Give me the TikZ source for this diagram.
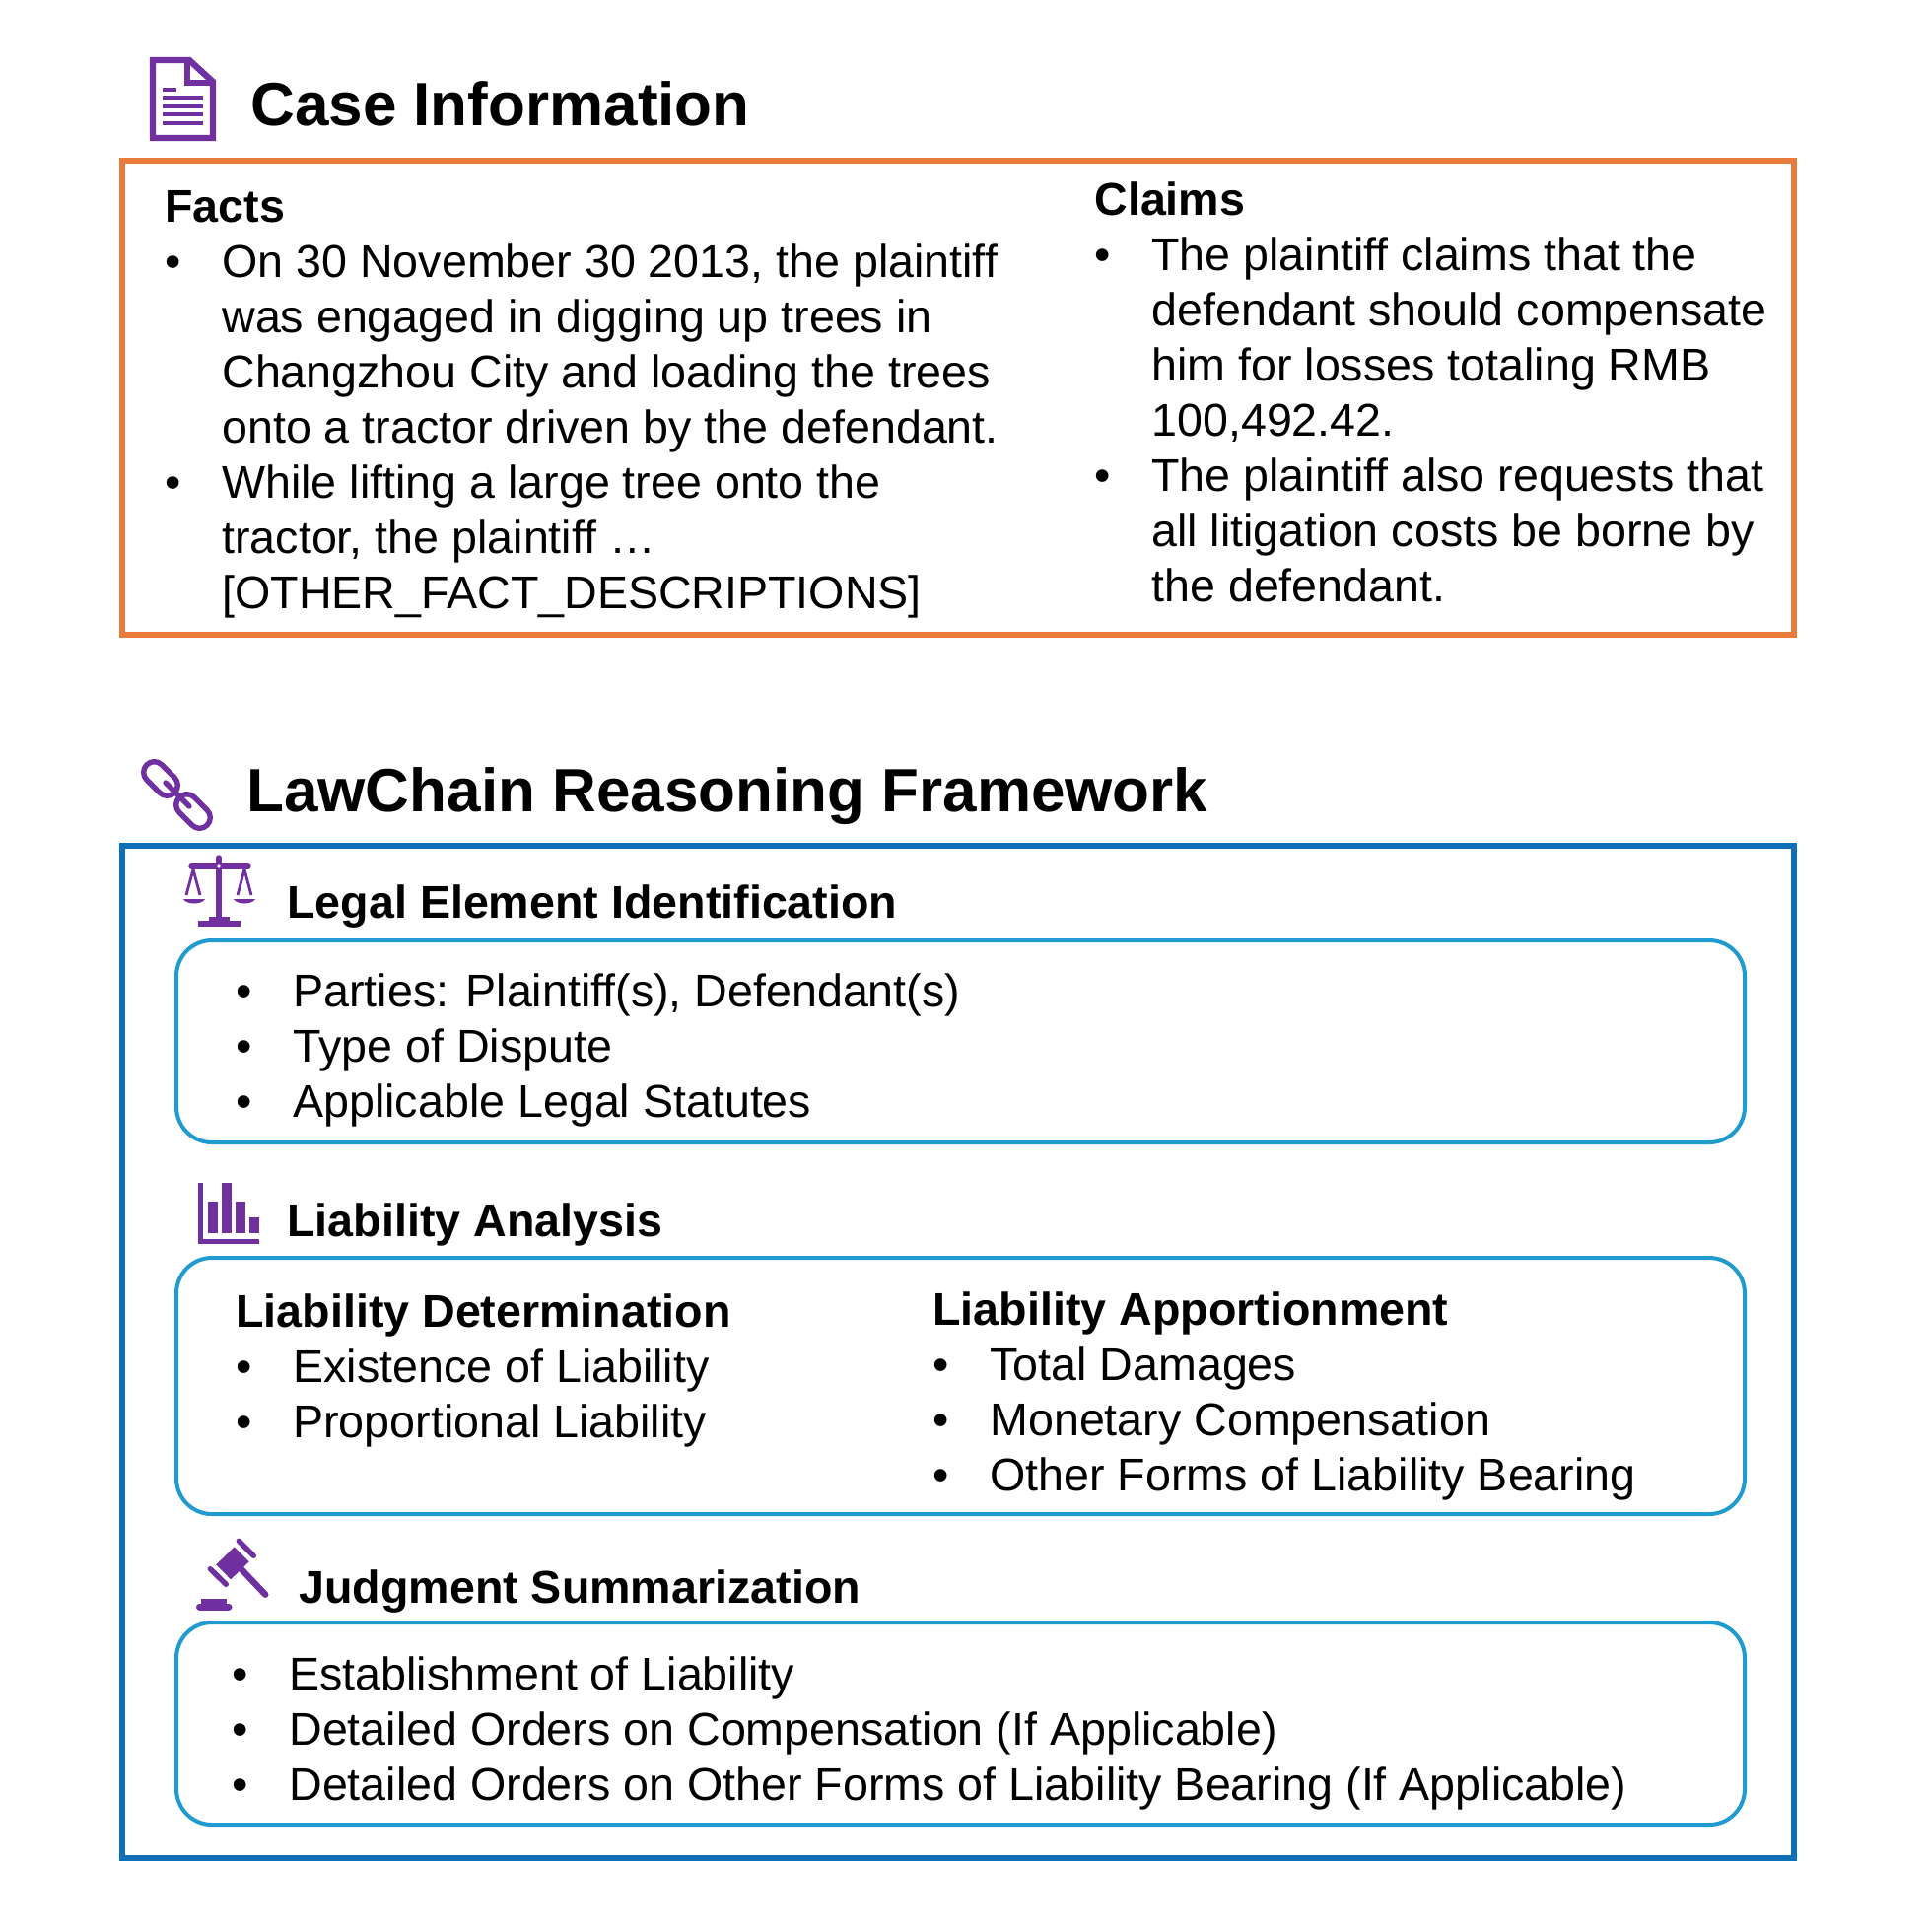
\documentclass[tikz,border=0pt]{standalone}
\usepackage{fontspec}
\setmainfont{Liberation Sans}
\usetikzlibrary{positioning}
\definecolor{caseorange}{HTML}{E97B3A}
\definecolor{chainblue}{HTML}{0F70B7}
\definecolor{panelblue}{HTML}{1F9BCF}
\definecolor{iconpurple}{HTML}{7030A0}
\newcommand{\bl}{\makebox[29pt][l]{\textbullet}}
\newcommand{\ind}{\hspace*{29pt}}

\begin{document}
\begin{tikzpicture}[
    x=0.5pt, y=-0.5pt,
    title/.style={anchor=base west, inner sep=0pt, font=\fontsize{31}{36}\selectfont\bfseries},
    head/.style={anchor=base west, inner sep=0pt, font=\fontsize{23.3}{28}\selectfont\bfseries},
    body/.style={anchor=base west, inner sep=0pt, align=left, font=\fontsize{23.3}{28}\selectfont},
    outer/.style={line width=3pt},
    panel/.style={draw=panelblue, line width=2pt, rounded corners=18pt},
    ico/.style={draw=iconpurple, line width=3.2pt},
    icofill/.style={fill=iconpurple}
]
\useasboundingbox (0,0) rectangle (1956,1960);

% boxes
\draw[outer, draw=caseorange] (124,163) rectangle (1820,644);
\draw[outer, draw=chainblue] (124,858) rectangle (1820,1885);
\draw[panel] (179,954) rectangle (1770,1159);
\draw[panel] (179,1276) rectangle (1770,1536);
\draw[panel] (179,1646) rectangle (1770,1851);

% titles
\node[title] (casetitle) at (254,127) {Case Information};
\node[title] (chaintitle) at (250,823) {LawChain Reasoning Framework};
\node[head] (legaltitle) at (291,931) {Legal Element Identification};
\node[head] (liabtitle) at (291,1254) {Liability Analysis};
\node[head] (judgetitle) at (303,1626) {Judgment Summarization};

% case text
\node[body] (facts) at (167,617) {\textbf{Facts}\\
\bl On 30 November 30 2013, the plaintiff\\
\ind was engaged in digging up trees in\\
\ind Changzhou City and loading the trees\\
\ind onto a tractor driven by the defendant.\\
\bl While lifting a large tree onto the\\
\ind tractor, the plaintiff …\\
\ind [OTHER\_FACT\_DESCRIPTIONS]};
\node[body] (claims) at (1110,610) {\textbf{Claims}\\
\bl The plaintiff claims that the\\
\ind defendant should compensate\\
\ind him for losses totaling RMB\\
\ind 100,492.42.\\
\bl The plaintiff also requests that\\
\ind all litigation costs be borne by\\
\ind the defendant.};

% framework text
\node[body] (legal) at (239,1133) {\bl Parties: Plaintiff(s), Defendant(s)\\
\bl Type of Dispute\\
\bl Applicable Legal Statutes};
\node[body] (determ) at (239,1458) {\textbf{Liability Determination}\\
\bl Existence of Liability\\
\bl Proportional Liability};
\node[body] (apport) at (946,1512) {\textbf{Liability Apportionment}\\
\bl Total Damages\\
\bl Monetary Compensation\\
\bl Other Forms of Liability Bearing};
\node[body] (judge) at (235,1826) {\bl Establishment of Liability\\
\bl Detailed Orders on Compensation (If Applicable)\\
\bl Detailed Orders on Other Forms of Liability Bearing (If Applicable)};

% document icon
\draw[ico, line join=miter] (155,61) -- (192,61) -- (216,83) -- (216,140) -- (155,140) -- cycle;
\draw[ico] (190,61) -- (190,84) -- (216,84);
\fill[icofill] (165,89) rectangle (179,93);
\foreach \yy in {99,108,116,125}
    \fill[icofill] (165,\yy-2) rectangle (206,\yy+2);

% chain icon
\foreach \xx/\yy in {163/790,196/823}
    \draw[ico, line width=2.7pt, rounded corners=5.4pt, shift={(\xx,\yy)}, rotate=-45]
        (-20,-10.8) rectangle (20,10.8);
\draw[ico, line width=2.7pt, line cap=round] (168,794) -- (192,818);

% scales icon
\draw[ico, line width=2.7pt, line cap=round] (222,870) -- (222,932);
\draw[ico, line width=2.6pt, line cap=round] (194,879) -- (252,879);
\fill[white] (222,879) circle[radius=1.8];
\fill[icofill] (212,930) rectangle (233,935);
\fill[icofill] (201,934) rectangle (244,940);
\draw[ico, line width=1.4pt, line join=round] (189,908) -- (196,882) -- (203,908);
\draw[ico, line width=1.4pt, line join=round] (241,908) -- (248,882) -- (255,908);
\fill[icofill] (186,912) -- (208,912) .. controls (205,918) and (189,918) .. cycle;
\fill[icofill] (237,912) -- (259,912) .. controls (256,918) and (240,918) .. cycle;

% chart icon
\fill[icofill] (201,1200) rectangle (206,1257);
\fill[icofill] (201,1257) rectangle (263,1262);
\fill[icofill] (211,1219) rectangle (221,1251);
\fill[icofill] (225,1200) rectangle (235,1251);
\fill[icofill] (239,1219) rectangle (249,1251);
\fill[icofill] (253,1235) rectangle (263,1251);

% gavel icon
\fill[icofill] (219.3,1587.3) -- (237.7,1569.3) -- (252.7,1584.3) -- (234,1602.3) -- cycle;
\draw[ico, line cap=round, line width=2.7pt] (242.3,1563.3) -- (257.3,1578.3);
\draw[ico, line cap=round, line width=2.7pt] (213.3,1591.7) -- (229.3,1607.3);
\draw[ico, line cap=round] (243,1590) -- (269.3,1617.7);
\draw[ico, line cap=round, line width=3.5pt] (202.5,1630) -- (232,1630);
\fill[icofill] (204.3,1622.3) rectangle (230,1627);
\end{tikzpicture}
\end{document}
